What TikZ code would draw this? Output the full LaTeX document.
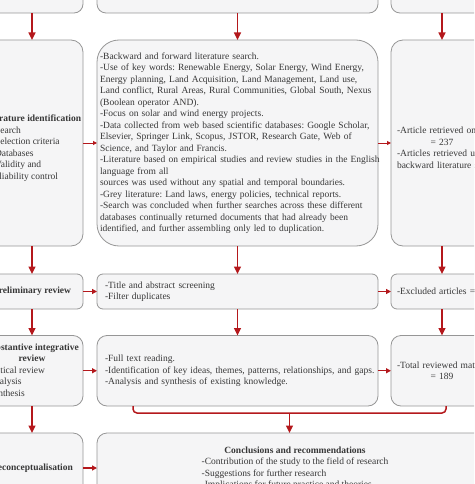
\documentclass[tikz,border=0pt]{standalone}
\usepackage{fontspec}
\setmainfont{Liberation Serif}
\usetikzlibrary{
  arrows.meta,
  positioning,  % Function "of" (e.g. [right=of x])
  calc,         % Calculations $...$
}
\frenchspacing
\definecolor{boxfill}{RGB}{245,245,246}
\definecolor{boxline}{RGB}{150,150,150}
\definecolor{flowred}{RGB}{180,24,28}
\definecolor{txtgray}{RGB}{55,55,55}
\newcommand{\boxfont}{\fontsize{9.5}{11.5}\selectfont}
\def\myvgap{27pt}
\tikzset{
  box/.style={
    draw=boxline,
    fill=boxfill,
    line width=0.8pt,
    rounded corners=9pt,
    inner sep=0pt,
    outer sep=0pt,
    text=txtgray,
    font=\boxfont
  },
  side box/.style={
    box,
    minimum width=102pt
  },
  mid box/.style={
    box,
    minimum width=281pt,
    align=left
  },
  inv/.style={
    draw=none,
    fill=none
  },
  flow/.style={
    draw=flowred,
    line width=1.5pt,
    -{Triangle[width=7pt,length=7.5pt]}
  },
  side flow/.style={
    draw=flowred,
    line width=1.3pt,
    -{Triangle[width=5pt,length=5pt]}
  },
  thin flow/.style={
    draw=flowred,
    line width=1pt,
    -{Triangle[width=4pt,length=4pt]}
  },
  bracket/.style={
    draw=flowred,
    line width=1.5pt,
    rounded corners=4pt
  }
}

\begin{document}
\begin{tikzpicture}[x=1pt,y=1pt]
\useasboundingbox (0,0) rectangle (474,-484);
\clip (0,0) rectangle (474,-484);
% Row 2: identification
\node[side box,minimum height=206pt,rounded corners=12pt] (lit) at (32,-143) {};
\node[mid box,minimum height=206pt,rounded corners=22pt,text width=275pt,inner xsep=3pt]
  (search) [right=14pt of lit] {-Backward and forward literature search.\\
  -Use of key words: Renewable Energy, Solar Energy, Wind Energy,\\
  Energy planning, Land Acquisition, Land Management, Land use,\\
  Land conflict, Rural Areas, Rural Communities, Global South, Nexus\\
  (Boolean operator AND).\\
  -Focus on solar and wind energy projects.\\
  -Data collected from web based scientific databases: Google Scholar,\\
  Elsevier, Springer Link, Scopus, JSTOR, Research Gate, Web of\\
  Science, and Taylor and Francis.\\
  \mbox{-Literature based on empirical studies and review studies in the English}\\
  language from all\\
  sources was used without any spatial and temporal boundaries.\\
  -Grey literature: Land laws, energy policies, technical reports.\\
  -Search was concluded when further searches across these different\\
  databases continually returned documents that had already been\\
  identified, and further assembling only led to duplication.};
\node[side box,minimum height=206pt,rounded corners=12pt] (found) [right=13pt of search] {};
\node[inv,font=\boxfont,text=txtgray] (littext) at ([yshift=-5pt]lit.center)
  {\begin{tabular}{@{}l@{}}
   \multicolumn{1}{@{}c@{}}{\textbf{Literature identification}}\\
   \hspace{9pt}-Search\\
   \hspace{9pt}-Selection criteria\\
   \hspace{9pt}-Databases\\
   \hspace{9pt}-Validity and\\
   \hspace{9pt}reliability control
   \end{tabular}};
\node[inv,font=\boxfont,text=txtgray,text width=90pt,inner xsep=0pt,align=center]
  (foundtext) at ([yshift=-5pt]found.center)
  {\mbox{-Article retrieved online}\\= 237\\\mbox{-Articles retrieved using}\\\mbox{backward literature search}};
% Row 1 (cut at the top)
\node[side box,minimum height=60pt] (top1) [above=\myvgap of lit] {};
\node[mid box,minimum height=60pt] (top2) [above=\myvgap of search] {};
\node[side box,minimum height=60pt] (top3) [above=\myvgap of found] {};
% Row 3: preliminary review
\node[side box,minimum height=35pt,rounded corners=6pt] (prelim) [below=28pt of lit]
  {\textbf{Preliminary review}};
\node[mid box,minimum height=35pt,rounded corners=6pt,text width=265pt,inner xsep=8pt]
  (screen) [below=28pt of search] {-Title and abstract screening\\-Filter duplicates};
\node[side box,minimum height=35pt,rounded corners=6pt,text width=90pt,inner xsep=6pt,align=left]
  (excl) [below=28pt of found] {-Excluded articles =};
% Row 4: integrative review
\node[side box,minimum height=70.5pt,rounded corners=10pt] (integ) [below=26.5pt of prelim]
  {\begin{tabular}{@{}l@{}}
   \multicolumn{1}{@{}c@{}}{\textbf{Substantive integrative}}\\
   \multicolumn{1}{@{}c@{}}{\textbf{review}}\\
   -Critical review\\
   -Analysis\\
   -Synthesis
   \end{tabular}};
\node[mid box,minimum height=70.5pt,rounded corners=10pt,text width=265pt,inner xsep=8pt]
  (full) [below=26.5pt of screen] {-Full text reading.\\
  \mbox{-Identification of key ideas, themes, patterns, relationships, and gaps.}\\
  -Analysis and synthesis of existing knowledge.};
\node[side box,minimum height=70.5pt,rounded corners=10pt,text width=90pt,inner xsep=6pt,align=center]
  (total) [below=26.5pt of excl] {\mbox{-Total reviewed materials}\\= 189\\[3pt]};
% Row 5: conclusions
\node[side box,minimum height=70pt,rounded corners=10pt] (recon) [below=\myvgap of integ]
  {\textbf{Reconceptualisation}};
\node[box,minimum width=396pt,minimum height=70pt,rounded corners=10pt,anchor=north west]
  (concl) at ([yshift=-\myvgap]full.south west)
  {\begin{tabular}{@{}l@{}}
   \multicolumn{1}{@{}c@{}}{\textbf{Conclusions and recommendations}}\\
   -Contribution of the study to the field of research\\
   -Suggestions for further research\\
   -Implications for future practice and theories
   \end{tabular}};
% Vertical arrows
\draw[flow] (top1) -- (lit);
\draw[flow] (top2) -- (search);
\draw[flow] (top3) -- (found);
\draw[flow] (lit) -- (prelim);
\draw[flow] (search) -- (screen);
\draw[flow] (found) -- (excl);
\draw[flow] (prelim) -- (integ);
\draw[flow] (screen) -- (full);
\draw[flow] (excl) -- (total);
\draw[flow] (integ) -- (recon);
% Horizontal arrows
\draw[thin flow] (lit) -- (search);
\draw[thin flow] (search) -- (found);
\draw[side flow] (prelim) -- (screen);
\draw[side flow] (screen) -- (excl);
\draw[side flow] (integ) -- (full);
\draw[side flow] (full) -- (total);
\draw[side flow] (recon) -- (recon -| concl.west);
% Bracket joining row 4 into the conclusions
\coordinate (bl) at ([xshift=36pt]full.south west);
\coordinate (br) at ([xshift=4pt]total.south);
\draw[bracket] (bl) -- ++(0,-7) -| (br);
\coordinate (bm) at ($(bl)!0.5!(br)+(0,-7)$);
\draw[flow] (bm) -- (bm |- concl.north);
\end{tikzpicture}
\end{document}
